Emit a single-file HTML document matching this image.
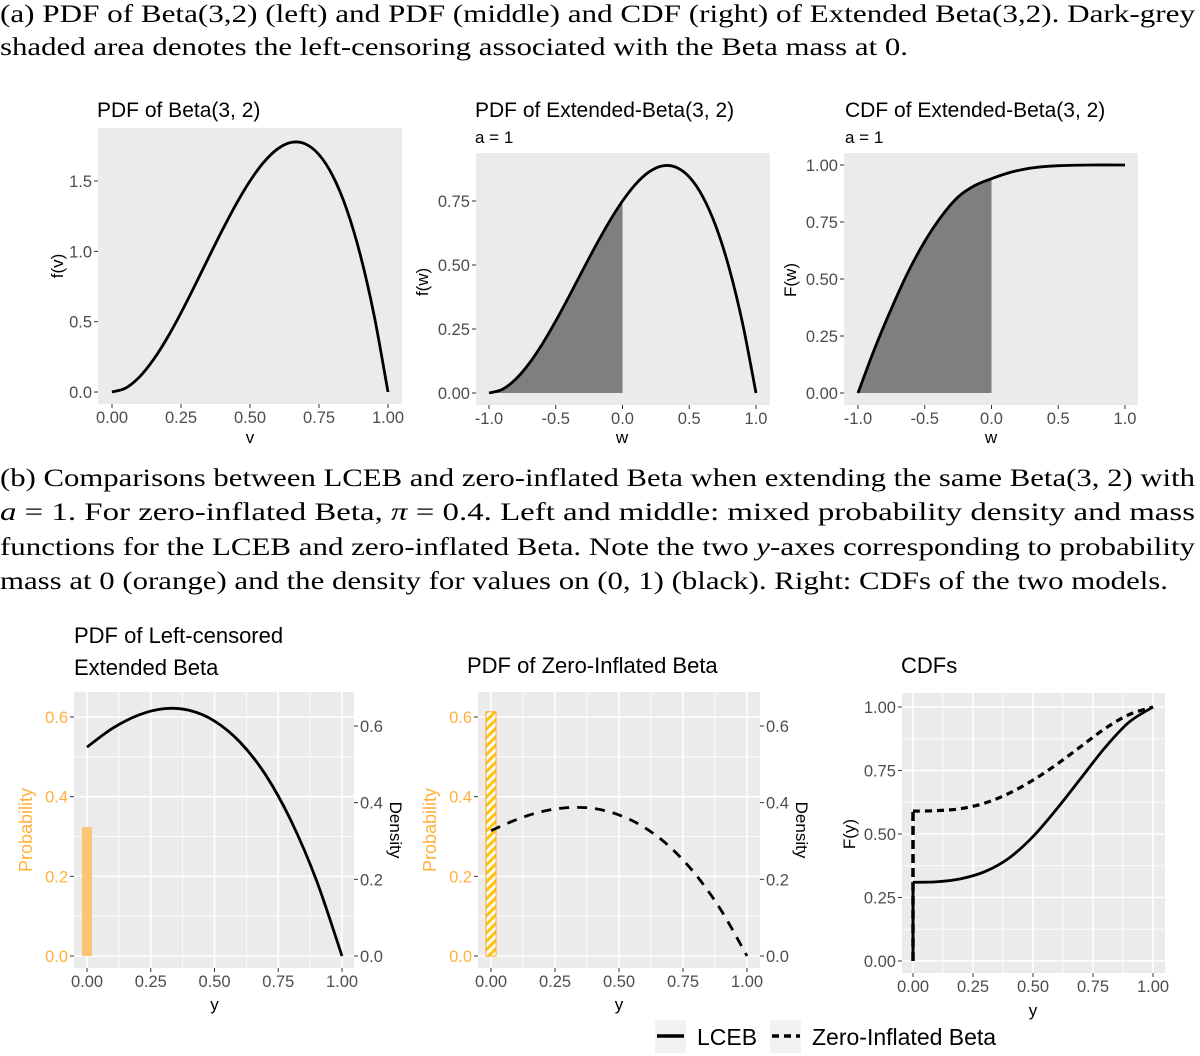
<!DOCTYPE html>
<html><head><meta charset="utf-8"><style>
html,body{margin:0;padding:0;background:#fff}
svg{display:block}
.cap{font-family:"Liberation Serif",serif;font-size:25px;fill:#000}
.tt{font-family:"Liberation Sans",sans-serif;font-size:21px;fill:#000}
.tk{font-family:"Liberation Sans",sans-serif;font-size:16.5px;fill:#4d4d4d}
.at{font-family:"Liberation Sans",sans-serif;font-size:17px;fill:#000}
</style></head><body>
<svg id="root" width="1200" height="1056" viewBox="0 0 1200 1056" xmlns="http://www.w3.org/2000/svg">
<defs>
<pattern id="hatch" width="6" height="6" patternUnits="userSpaceOnUse" patternTransform="rotate(-45)">
<rect width="6" height="6" fill="#fff"/><rect width="6" height="3" fill="#ffc20e"/>
</pattern>
</defs>
<g>
<text class="cap" x="0" y="22" textLength="1195" lengthAdjust="spacingAndGlyphs">(a) PDF of Beta(3,2) (left) and PDF (middle) and CDF (right) of Extended Beta(3,2). Dark-grey</text>
<text class="cap" x="0" y="55" textLength="908" lengthAdjust="spacingAndGlyphs">shaded area denotes the left-censoring associated with the Beta mass at 0.</text>
</g>
<g>
<text class="cap" x="0" y="486" textLength="1195" lengthAdjust="spacingAndGlyphs">(b) Comparisons between LCEB and zero-inflated Beta when extending the same Beta(3, 2) with</text>
<text class="cap" x="0" y="520" textLength="1195" lengthAdjust="spacingAndGlyphs"><tspan font-style="italic">a</tspan> = 1.  For zero-inflated Beta, <tspan font-style="italic">π</tspan> = 0.4.  Left and middle:  mixed probability density and mass</text>
<text class="cap" x="0" y="555" textLength="1195" lengthAdjust="spacingAndGlyphs">functions for the LCEB and zero-inflated Beta. Note the two <tspan font-style="italic">y</tspan>-axes corresponding to probability</text>
<text class="cap" x="0" y="589" textLength="1168" lengthAdjust="spacingAndGlyphs">mass at 0 (orange) and the density for values on (0, 1) (black). Right: CDFs of the two models.</text>
</g>
</svg>
<script>
// ---- data ----
const betaV = [0,0.05,0.1,0.15,0.2,0.25,0.3,0.35,0.4,0.45,0.5,0.55,0.6,0.65,0.7,0.75,0.8,0.85,0.9,0.95,1];
const betaPdf = [0,0.0285,0.108,0.2295,0.384,0.5625,0.756,0.9555,1.152,1.3365,1.5,1.6335,1.728,1.7745,1.764,1.6875,1.536,1.3005,0.972,0.5415,0];
const extW = [-1,-0.9,-0.8,-0.7,-0.6,-0.5,-0.4,-0.3,-0.2,-0.1,0,0.1,0.2,0.3,0.4,0.5,0.6,0.7,0.8,0.9,1];
const extPdf = [0,0.0143,0.054,0.1148,0.192,0.2813,0.378,0.4778,0.576,0.6683,0.75,0.8168,0.864,0.8873,0.882,0.8438,0.768,0.6503,0.486,0.2708,0];
const cdfW = [-1,-0.875,-0.75,-0.625,-0.5,-0.375,-0.25,-0.125,0,0.125,0.25,0.375,0.5,0.75,1];
const cdfF = [0,0.195,0.37,0.53,0.665,0.775,0.86,0.91,0.94,0.965,0.982,0.992,0.997,1,1];
const yGrid = [0,0.1,0.2,0.3,0.4,0.5,0.6,0.7,0.8,0.9,1];
const lcebDens = [0.545,0.594,0.628,0.645,0.641,0.613,0.558,0.473,0.353,0.197,0];
const zibDens = [0.327,0.356,0.377,0.387,0.385,0.368,0.335,0.284,0.212,0.118,0];
const lcebMass = [0.324];
const zibMass = [0.613];
const lcebCdf = [0.31,0.312,0.324,0.352,0.405,0.49,0.6,0.72,0.84,0.94,1.0];
const zibCdf = [0.59,0.592,0.6,0.622,0.66,0.712,0.775,0.845,0.915,0.97,1.0];
const ticks01 = [0,0.25,0.5,0.75,1];
const ticks01Lab = ["0.00","0.25","0.50","0.75","1.00"];
const ticksW = [-1,-0.5,0,0.5,1];
const ticksWLab = ["-1.0","-0.5","0.0","0.5","1.0"];

const NS = "http://www.w3.org/2000/svg";
const root = document.getElementById('root');
function mk(parent, tag, attrs, name, inter) {
  const el = document.createElementNS(NS, tag);
  for (const k in attrs) el.setAttribute(k, attrs[k]);
  
  
  parent.appendChild(el);
  return el;
}
function txt(parent, x, y, s, cls, name, extra) {
  const a = Object.assign({x: x, y: y, class: cls}, extra || {});
  const t = mk(parent, 'text', a, name, false);
  t.textContent = s;
  return t;
}
function lin(d0, d1, r0, r1) { return v => r0 + (v - d0) * (r1 - r0) / (d1 - d0); }
function smooth(pts) {
  let d = 'M' + pts[0][0].toFixed(2) + ',' + pts[0][1].toFixed(2);
  for (let i = 0; i < pts.length - 1; i++) {
    const p0 = pts[Math.max(0, i - 1)], p1 = pts[i], p2 = pts[i + 1], p3 = pts[Math.min(pts.length - 1, i + 2)];
    const c1 = [p1[0] + (p2[0] - p0[0]) / 6, p1[1] + (p2[1] - p0[1]) / 6];
    const c2 = [p2[0] - (p3[0] - p1[0]) / 6, p2[1] - (p3[1] - p1[1]) / 6];
    d += 'C' + c1[0].toFixed(2) + ',' + c1[1].toFixed(2) + ' ' + c2[0].toFixed(2) + ',' + c2[1].toFixed(2) + ' ' + p2[0].toFixed(2) + ',' + p2[1].toFixed(2);
  }
  return d;
}
function panel(name, bx0, bx1, by0, by1) {
  const g = mk(root, 'g', {}, name, false);
  mk(g, 'rect', {x: bx0, y: by0, width: bx1 - bx0, height: by1 - by0, fill: '#ebebeb'}, 'plot-background', false);
  return g;
}
function grid(g, bx0, bx1, by0, by1, xs, xv, ys, yv, minor) {
  xv.forEach(v => mk(g, 'line', {x1: xs(v), x2: xs(v), y1: by0, y2: by1, stroke: '#fff', 'stroke-width': minor ? 0.8 : 1.6}, 'grid-x', false));
  yv.forEach(v => mk(g, 'line', {y1: ys(v), y2: ys(v), x1: bx0, x2: bx1, stroke: '#fff', 'stroke-width': minor ? 0.8 : 1.6}, 'grid-y', false));
}
function xAxis(g, xs, vals, labs, by1) {
  vals.forEach((v, i) => {
    mk(g, 'line', {x1: xs(v), x2: xs(v), y1: by1, y2: by1 + 4, stroke: '#333', 'stroke-width': 1}, 'x-tick', false);
    txt(g, xs(v), by1 + 19, labs[i], 'tk', 'x-tick-label', {'text-anchor': 'middle'});
  });
}
function yAxis(g, ys, vals, labs, bx0, color) {
  vals.forEach((v, i) => {
    mk(g, 'line', {x1: bx0 - 4, x2: bx0, y1: ys(v), y2: ys(v), stroke: '#333', 'stroke-width': 1}, 'y-tick', false);
    txt(g, bx0 - 6, ys(v) + 6, labs[i], 'tk', 'y-tick-label', {'text-anchor': 'end', style: color ? 'fill:' + color : ''});
  });
}
function yAxisR(g, ys, vals, labs, bx1) {
  vals.forEach((v, i) => {
    mk(g, 'line', {x1: bx1, x2: bx1 + 4, y1: ys(v), y2: ys(v), stroke: '#333', 'stroke-width': 1}, 'y2-tick', false);
    txt(g, bx1 + 6, ys(v) + 6, labs[i], 'tk', 'y2-tick-label', {'text-anchor': 'start'});
  });
}
function curve(g, xs, ys, X, Y, name, dash, w) {
  const pts = X.map((x, i) => [xs(x), ys(Y[i])]);
  const a = {d: smooth(pts), fill: 'none', stroke: '#000', 'stroke-width': w || 2.8};
  if (dash) a['stroke-dasharray'] = dash;
  return mk(g, 'path', a, name, false);
}
function area(g, xs, ys, X, Y, xmax, name) {
  const idx = X.map((x, i) => i).filter(i => X[i] <= xmax);
  const pts = idx.map(i => [xs(X[i]), ys(Y[i])]);
  const d = smooth(pts) + 'L' + xs(X[idx[idx.length - 1]]) + ',' + ys(0) + 'L' + xs(X[0]) + ',' + ys(0) + 'Z';
  mk(g, 'path', {d: d, fill: '#7f7f7f'}, name, false);
}

// ---- Panel 1 ----
(function () {
  const g = panel('panel-beta-pdf', 98, 402, 128, 404);
  const xs = lin(0, 1, 112, 388), ys = lin(0, 1.5, 392, 181);
  curve(g, xs, ys, betaV, betaPdf, 'beta-pdf-line');
  xAxis(g, xs, ticks01, ticks01Lab, 404);
  yAxis(g, ys, [0, 0.5, 1, 1.5], ["0.0", "0.5", "1.0", "1.5"], 98);
  txt(g, 97, 117, 'PDF of Beta(3, 2)', 'tt', 'chart-title');
  txt(g, 250, 443, 'v', 'at', 'x-axis-title', {'text-anchor': 'middle'});
  txt(g, 0, 0, 'f(v)', 'at', 'y-axis-title', {'text-anchor': 'middle', transform: 'translate(63,266) rotate(-90)'});
})();
// ---- Panel 2 ----
(function () {
  const g = panel('panel-ext-beta-pdf', 476, 770, 153, 405);
  const xs = lin(-1, 1, 489, 756), ys = lin(0, 0.75, 393, 201);
  area(g, xs, ys, extW, extPdf, 0, 'censored-area');
  curve(g, xs, ys, extW, extPdf, 'ext-beta-pdf-line');
  xAxis(g, xs, ticksW, ticksWLab, 405);
  yAxis(g, ys, [0, 0.25, 0.5, 0.75], ["0.00", "0.25", "0.50", "0.75"], 476);
  txt(g, 475, 117, 'PDF of Extended-Beta(3, 2)', 'tt', 'chart-title');
  txt(g, 475, 143, 'a = 1', 'tk', 'chart-subtitle', {style: 'fill:#000;font-size:17px'});
  txt(g, 622, 443, 'w', 'at', 'x-axis-title', {'text-anchor': 'middle'});
  txt(g, 0, 0, 'f(w)', 'at', 'y-axis-title', {'text-anchor': 'middle', transform: 'translate(428,282) rotate(-90)'});
})();
// ---- Panel 3 ----
(function () {
  const g = panel('panel-ext-beta-cdf', 844, 1138, 153, 405);
  const xs = lin(-1, 1, 858, 1125), ys = lin(0, 1, 393, 165);
  area(g, xs, ys, cdfW, cdfF, 0, 'censored-area');
  curve(g, xs, ys, cdfW, cdfF, 'ext-beta-cdf-line');
  xAxis(g, xs, ticksW, ticksWLab, 405);
  yAxis(g, ys, [0, 0.25, 0.5, 0.75, 1], ["0.00", "0.25", "0.50", "0.75", "1.00"], 844);
  txt(g, 845, 117, 'CDF of Extended-Beta(3, 2)', 'tt', 'chart-title');
  txt(g, 845, 143, 'a = 1', 'tk', 'chart-subtitle', {style: 'fill:#000;font-size:17px'});
  txt(g, 991, 443, 'w', 'at', 'x-axis-title', {'text-anchor': 'middle'});
  txt(g, 0, 0, 'F(w)', 'at', 'y-axis-title', {'text-anchor': 'middle', transform: 'translate(796,280) rotate(-90)'});
})();
// ---- Bottom shared ----
function dualPanel(name, bx0, bx1, x0, x1, title, titleLines, massVal, massFill, massStroke, dens, dash) {
  const by0 = 692, by1 = 968;
  const g = panel(name, bx0, bx1, by0, by1);
  const xs = lin(0, 1, x0, x1), ysL = lin(0, 0.6, 956, 717), ysR = lin(0, 0.6, 956, 726);
  grid(g, bx0, bx1, by0, by1, xs, [0.125, 0.375, 0.625, 0.875], ysL, [0.1, 0.3, 0.5], true);
  grid(g, bx0, bx1, by0, by1, xs, ticks01, ysL, [0, 0.2, 0.4, 0.6], false);
  const bw = 10;
  mk(g, 'rect', {x: xs(0) - bw / 2, y: ysL(massVal[0]), width: bw, height: ysL(0) - ysL(massVal[0]), fill: massFill, stroke: massStroke, 'stroke-width': 1}, 'mass-bar', false);
  curve(g, xs, ysR, yGrid, dens, 'density-line', dash, 2.8);
  xAxis(g, xs, ticks01, ticks01Lab, by1);
  yAxis(g, ysL, [0, 0.2, 0.4, 0.6], ["0.0", "0.2", "0.4", "0.6"], bx0, '#ffb03a');
  yAxisR(g, ysR, [0, 0.2, 0.4, 0.6], ["0.0", "0.2", "0.4", "0.6"], bx1);
  titleLines.forEach((s, i) => txt(g, title[0], title[1] + i * 32, s, 'tt', 'chart-title', {style: 'font-size:22px'}));
  txt(g, (x0 + x1) / 2, 1010, 'y', 'at', 'x-axis-title', {'text-anchor': 'middle'});
  txt(g, 0, 0, 'Probability', 'at', 'y-axis-title-left', {'text-anchor': 'middle', style: 'fill:#ffb03a;font-size:18px', transform: 'translate(' + (bx0 - 42) + ',830) rotate(-90)'});
  txt(g, 0, 0, 'Density', 'at', 'y-axis-title-right', {'text-anchor': 'middle', transform: 'translate(' + (bx1 + 36) + ',830) rotate(90)'});
}
dualPanel('panel-lceb-pdf', 74, 354, 87, 342, [74, 643], ['PDF of Left-censored', 'Extended Beta'], lcebMass, '#fdc475', 'none', lcebDens, null);
dualPanel('panel-zib-pdf', 478, 760, 491, 747, [467, 673], ['PDF of Zero-Inflated Beta'], zibMass, 'url(#hatch)', '#ffa726', zibDens, '10,8');
// ---- Panel 6 ----
(function () {
  const bx0 = 902, bx1 = 1165, by0 = 693, by1 = 973;
  const g = panel('panel-cdfs', bx0, bx1, by0, by1);
  const xs = lin(0, 1, 913, 1153), ys = lin(0, 1, 961, 707);
  grid(g, bx0, bx1, by0, by1, xs, [0.125, 0.375, 0.625, 0.875], ys, [0.125, 0.375, 0.625, 0.875], true);
  grid(g, bx0, bx1, by0, by1, xs, ticks01, ys, ticks01, false);
  mk(g, 'line', {x1: xs(0), x2: xs(0), y1: ys(0), y2: ys(zibCdf[0]), stroke: '#000', 'stroke-width': 3.5, 'stroke-dasharray': '9,5'}, 'zib-jump', false);
  mk(g, 'line', {x1: xs(0), x2: xs(0), y1: ys(0), y2: ys(lcebCdf[0]), stroke: '#000', 'stroke-width': 3}, 'lceb-jump', false);
  curve(g, xs, ys, yGrid, lcebCdf, 'lceb-cdf-line', null, 2.8);
  curve(g, xs, ys, yGrid, zibCdf, 'zib-cdf-line', '7,5', 3.2);
  xAxis(g, xs, ticks01, ticks01Lab, by1);
  yAxis(g, ys, ticks01, ticks01Lab, bx0);
  txt(g, 901, 673, 'CDFs', 'tt', 'chart-title', {style: 'font-size:22px'});
  txt(g, 1033, 1016, 'y', 'at', 'x-axis-title', {'text-anchor': 'middle'});
  txt(g, 0, 0, 'F(y)', 'at', 'y-axis-title', {'text-anchor': 'middle', transform: 'translate(855,834) rotate(-90)'});
})();
// ---- Legend ----
(function () {
  const g = mk(root, 'g', {}, 'legend', false);
  mk(g, 'rect', {x: 655, y: 1020, width: 31, height: 33, fill: '#f2f2f2'}, 'legend-key-bg', false);
  mk(g, 'line', {x1: 657, x2: 684, y1: 1036, y2: 1036, stroke: '#000', 'stroke-width': 3.5}, 'legend-key-lceb', false);
  txt(g, 697, 1045, 'LCEB', 'tt', 'legend-label-lceb', {style: 'font-size:23px'});
  mk(g, 'rect', {x: 770, y: 1020, width: 31, height: 33, fill: '#f2f2f2'}, 'legend-key-bg', false);
  mk(g, 'line', {x1: 772, x2: 800, y1: 1036, y2: 1036, stroke: '#000', 'stroke-width': 3.5, 'stroke-dasharray': '7,5'}, 'legend-key-zib', false);
  txt(g, 812, 1045, 'Zero-Inflated Beta', 'tt', 'legend-label-zib', {style: 'font-size:23px'});
})();
</script>
</body></html>
